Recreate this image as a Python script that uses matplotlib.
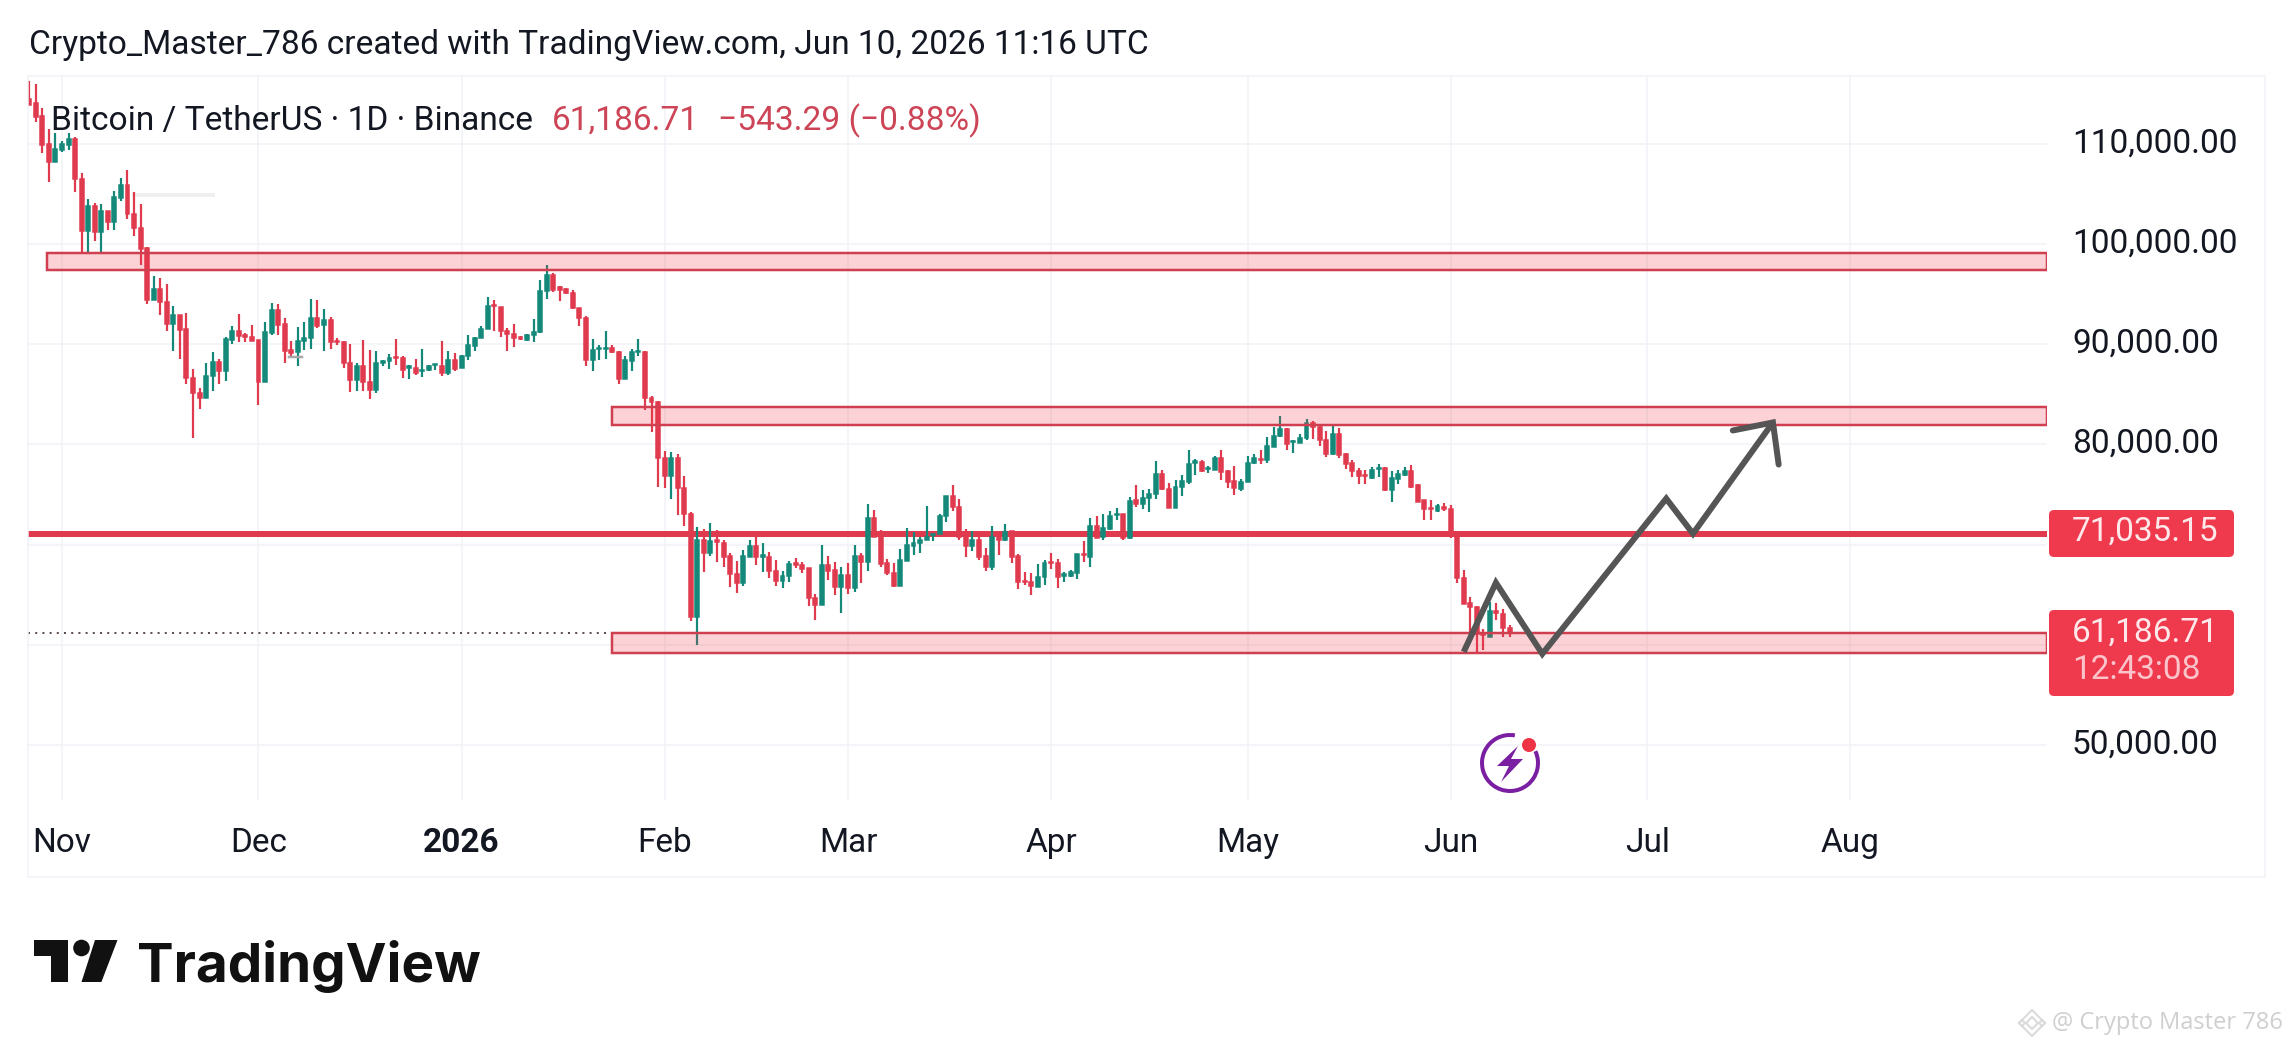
import matplotlib
matplotlib.use("Agg")
import matplotlib.pyplot as plt
import matplotlib.dates as mdates
import numpy as np
import pandas as pd
from matplotlib.patches import Rectangle, Polygon, Circle, FancyBboxPatch, Arc
from matplotlib.transforms import ScaledTranslation

W, H, DPI = 2294, 1047, 100
plt.rcParams['font.family'] = ['Roboto', 'DejaVu Sans']

opens = [114.5,114.1,112.8,110.0,108.2,109.4,109.9,110.5,106.5,101.3,103.8,101.2,103.3,102.2,104.6,105.9,103.0,101.6,99.6,94.4,95.5,94.2,92.0,92.9,91.5,86.6,85.1,84.6,86.8,88.2,87.3,90.4,91.3,90.9,90.7,90.4,86.2,91.1,93.4,92.0,89.4,89.2,90.3,90.6,92.6,91.9,92.4,90.3,90.2,88.1,86.4,
 87.8,86.2,85.4,88.1,88.3,88.7,88.6,87.6,87.6,87.3,87.4,87.9,87.8,87.1,88.4,87.6,88.8,89.8,90.6,91.5,93.9,93.7,91.3,91.0,90.7,90.4,90.9,91.2,95.3,96.9,95.7,95.5,95.1,93.6,92.6,88.4,89.5,89.5,89.6,89.2,86.5,88.3,89.2,89.2,84.6,84.2,78.7,76.9,78.7,75.7,73.1,62.8,
 70.5,69.2,70.5,70.2,68.9,67.1,66.2,68.8,69.9,68.8,68.8,67.4,66.4,66.9,68.2,68.0,67.7,64.7,64.0,68.0,67.5,65.8,67.0,65.7,68.9,68.3,72.7,71.0,68.2,67.2,65.9,68.4,69.9,70.2,70.5,71.0,71.1,72.9,74.9,73.8,71.2,69.9,70.5,68.9,67.8,71.2,
 70.5,71.4,68.9,66.4,66.3,65.8,66.8,68.3,68.2,66.9,66.9,67.2,69.1,68.8,71.9,70.8,71.6,73.0,73.1,70.7,74.5,74.1,74.7,75.1,77.1,75.6,73.7,75.8,76.3,78.2,78.3,77.6,77.5,78.7,77.4,76.4,75.6,76.3,78.2,78.6,78.5,79.8,80.8,81.5,80.2,80.1,80.6,82.1,81.7,80.4,79.1,81.0,
 79.1,78.2,77.4,77.0,76.7,77.6,77.7,75.5,76.6,77.0,77.4,76.0,74.5,73.7,73.4,73.8,73.6,71.2,66.7,64.2,63.8,61.2,60.8,63.4,63.1,61.73]
highs = [116.3,116.0,113.6,111.5,111.1,110.3,111.1,110.7,107.1,104.5,104.1,104.0,103.3,105.3,106.6,107.4,105.2,104.0,99.7,96.8,96.6,96.0,93.8,92.9,93.1,87.5,85.6,88.1,89.2,88.5,90.7,91.8,93.0,91.1,91.9,90.4,92.2,94.1,94.0,92.6,90.3,91.7,92.2,94.5,94.4,93.5,92.7,90.6,90.3,90.0,88.1,
 90.4,89.4,89.3,88.4,89.0,90.5,88.8,87.9,88.5,89.5,87.9,88.0,90.3,89.3,89.1,88.9,90.9,90.7,91.8,94.7,94.4,93.7,91.6,92.0,90.8,91.0,92.5,96.4,97.9,97.1,95.8,95.6,95.4,93.6,92.8,90.5,89.9,91.3,89.9,89.3,88.8,89.5,90.5,89.3,84.8,84.3,79.4,79.3,79.1,76.9,73.3,71.8,
 71.6,72.2,71.5,70.5,69.2,68.4,69.5,70.5,70.8,70.2,69.3,68.5,67.4,68.4,68.7,68.3,67.7,65.1,70.0,68.9,68.3,67.8,68.2,70.0,69.2,74.1,73.5,71.5,68.6,68.2,69.6,71.7,71.3,70.8,73.9,71.1,73.1,74.9,76.0,74.6,71.6,71.4,70.8,69.7,71.9,71.3,
 72.1,71.4,69.1,67.3,67.2,68.1,68.5,69.2,68.6,67.3,67.5,69.1,70.4,72.7,72.9,73.1,73.4,73.7,73.1,74.8,76.0,75.5,75.6,78.4,77.5,76.2,76.5,77.0,79.5,78.6,78.5,77.9,78.9,79.5,77.5,77.9,76.6,78.9,79.1,79.5,80.7,81.7,82.8,81.6,80.4,81.0,82.5,82.3,81.8,81.3,82.0,81.6,
 79.2,78.5,77.7,77.5,77.8,78.1,77.8,77.4,77.5,77.8,78.0,76.1,74.5,74.5,74.1,74.2,74.0,71.4,67.5,64.8,63.9,61.6,64.3,64.2,63.6,62.0]
lows = [113.9,112.2,109.1,106.2,108.2,109.2,109.4,105.2,99.0,99.0,100.3,99.2,101.4,101.4,104.3,102.5,100.8,97.9,94.0,94.4,92.9,91.3,89.3,88.5,86.0,80.6,83.5,84.6,85.3,86.0,86.3,90.0,90.2,90.2,90.3,83.9,86.2,90.9,90.9,88.1,88.6,87.8,89.4,89.5,91.6,89.3,89.5,89.9,87.6,85.2,85.3,
 85.3,84.5,85.1,87.8,87.5,87.9,86.6,86.5,86.9,86.7,87.3,87.4,86.8,86.9,87.3,87.6,88.4,89.3,90.6,91.5,91.3,90.7,89.3,89.7,90.4,90.3,90.2,91.1,94.5,95.2,94.3,95.0,93.5,91.8,87.8,87.3,88.4,88.5,89.1,86.0,86.5,87.3,88.8,83.4,81.2,75.8,75.7,74.6,73.0,71.9,62.4,60.0,
 67.3,68.9,68.3,67.8,65.8,65.2,65.9,68.8,68.0,67.3,66.7,65.9,65.7,66.3,67.7,67.2,63.9,62.5,64.0,66.5,65.0,63.2,65.1,65.3,66.2,67.4,70.8,67.8,67.0,65.8,65.9,68.4,69.0,69.2,70.5,70.4,71.1,72.3,73.4,70.5,68.8,69.4,68.5,67.4,67.5,69.0,
 70.4,68.2,65.6,66.0,65.0,65.8,66.0,67.6,65.7,66.3,66.8,66.6,68.3,67.8,70.7,70.5,71.5,72.5,70.5,70.6,73.8,73.6,73.3,74.6,75.5,73.7,73.7,74.9,76.1,77.0,77.3,77.2,77.5,76.5,75.7,75.0,75.4,76.3,78.1,78.1,78.2,79.8,80.7,79.5,79.2,80.1,80.4,80.5,79.9,78.8,79.0,78.7,
 77.6,76.8,76.1,76.1,76.6,76.8,75.4,74.3,76.1,76.9,75.7,74.3,72.5,72.5,73.3,73.4,70.7,66.2,64.1,61.3,59.3,59.5,60.8,62.5,60.8,60.8]
closes = [113.9,112.7,109.9,108.2,109.5,110.0,110.5,106.5,101.3,103.8,101.2,103.3,102.2,104.7,105.9,103.0,101.6,99.5,94.4,95.5,94.2,92.0,92.9,91.4,86.6,85.1,84.6,86.8,88.2,87.3,90.5,91.3,90.8,90.7,90.3,86.2,91.2,93.4,91.9,89.3,89.1,90.3,90.6,92.6,91.8,92.4,90.2,90.2,88.1,86.4,87.8,
 86.2,85.4,88.1,88.3,88.6,88.6,87.4,87.8,87.1,87.4,87.8,88.0,87.1,88.4,87.5,88.8,89.9,90.6,91.5,93.8,93.8,91.3,91.0,90.6,90.5,90.9,91.2,95.3,96.9,95.4,95.4,95.1,93.6,92.6,88.4,89.4,89.6,89.6,89.2,86.5,88.4,89.2,89.3,84.6,84.2,78.7,76.9,78.7,75.7,73.1,62.8,70.5,
 69.2,70.4,70.3,68.8,67.1,66.2,68.9,69.9,68.8,69.0,67.4,66.4,66.9,68.1,68.0,67.6,64.7,64.0,68.0,67.4,65.8,67.0,65.7,68.9,68.3,72.7,70.8,68.1,67.2,65.9,68.5,70.0,70.2,70.5,70.8,71.1,72.9,74.9,73.8,70.8,69.9,70.5,68.8,67.8,70.8,70.5,
 71.3,68.8,66.3,66.3,65.9,66.8,68.2,68.2,66.8,67.1,67.3,69.1,69.0,71.9,70.7,71.7,72.9,73.1,70.7,74.4,74.1,74.7,75.1,77.1,75.6,73.7,75.8,76.4,78.1,78.4,77.4,77.7,78.7,77.3,76.3,75.7,76.3,78.2,78.7,78.5,79.9,80.8,81.5,80.0,80.3,80.6,82.1,81.7,80.4,79.1,81.0,79.0,
 78.1,77.4,76.9,76.9,77.5,77.7,75.5,76.7,77.1,77.4,75.8,74.3,73.6,73.6,73.9,73.6,71.2,66.7,64.1,63.8,61.1,61.0,63.4,63.2,61.7,61.19]
first_day = '2025-10-27'

price_ticks = [50, 60, 70, 80, 90, 100, 110]
price_labels = ['50,000.00', '', '', '80,000.00', '90,000.00', '100,000.00', '110,000.00']
month_ticks = ['2025-11-01','2025-12-01','2026-01-01','2026-02-01','2026-03-01','2026-04-01','2026-05-01','2026-06-01','2026-07-01','2026-08-01']
month_labels = ['Nov','Dec','2026','Feb','Mar','Apr','May','Jun','Jul','Aug']

# zones: (start date, top, bottom), all run to the right edge
zone_starts = ['2025-10-29 16:00', '2026-01-24', '2026-01-24']
zone_tops = [99.15, 83.7, 61.2]
zone_bottoms = [97.42, 81.99, 59.23]
level_price = 71.03515
last_price = 61.18671
path_dates = ['2026-06-03','2026-06-07 22:00','2026-06-15','2026-07-03 22:00','2026-07-08','2026-07-20 05:00']
path_prices = [59.3, 66.2, 59.1, 74.6, 71.1, 82.2]
head_dates = ['2026-07-14 02:00','2026-07-20 05:00','2026-07-21 02:00']
head_prices = [81.4, 82.2, 78.0]

RED = '#E03A4E'
GREEN = '#14897A'
ZONE = '#CF3F50'
GRID = '#F0F2F6'
DARK = '#131722'

def num(s):
    return mdates.date2num(pd.to_datetime(s, format='mixed'))

fig = plt.figure(figsize=(W/DPI, H/DPI), dpi=DPI, facecolor='white')
L, R, T, B = 28, 2047, 76, 800
ax = fig.add_axes([L/W, 1-B/H, (R-L)/W, (B-T)/H])
px = 72/DPI  # points per pixel

dates = pd.date_range(first_day, periods=len(opens))
x = mdates.date2num(dates)
o, h, l, c = map(np.array, (opens, highs, lows, closes))
up = c >= o
cols = np.where(up, GREEN, RED)

ax.vlines(x, l, h, colors=cols, lw=2.2*px, zorder=3)
ax.bar(x, np.abs(c-o), bottom=np.minimum(o, c), width=0.6, color=cols, edgecolor=cols,
       linewidth=1.5*px, zorder=3.1)

ax.axhline(level_price, color=RED, lw=6*px, zorder=2, solid_capstyle='butt')
x0 = num(first_day)
xl = (x0 + 5 - 5.19, x0 + 5 + 303.05)

for s, t, b in zip(zone_starts, zone_tops, zone_bottoms):
    xs = num(s)
    ax.add_patch(Rectangle((xs, b), xl[1]-xs, t-b, facecolor='#F23645', alpha=0.22, lw=0, zorder=4))
    ax.add_patch(Rectangle((xs, b), xl[1]-xs, t-b, facecolor='none', edgecolor=ZONE, lw=2.5*px, zorder=4.1))

ax.plot([xl[0], num('2026-01-23')], [last_price, last_price], color='#5E4E50',
        lw=2*px, ls=(0, (1, 2.6)), zorder=1.5)
# faint remnants of drawings
ax.plot(num(['2025-11-12','2025-11-24']), [104.9, 104.9], color='#EFEFEF', lw=4*px, zorder=1.2)
ax.plot(num(['2025-12-05 14:00','2025-12-07 14:00']), [88.7, 88.7], color='#A8A8A8', lw=2.5*px, zorder=3.2)

ax.plot(num(path_dates), path_prices, color='#555555', lw=6*px, zorder=6,
        solid_joinstyle='miter', solid_capstyle='butt')
ax.plot(num(head_dates), head_prices, color='#555555', lw=6*px, zorder=6,
        solid_joinstyle='miter', solid_capstyle='round')

ax.set_xlim(*xl)
ax.set_ylim(50-55*0.09983, 110+68*0.09983)
ax.set_yticks(price_ticks)
ax.set_yticklabels(price_labels, fontsize=24, color=DARK)
ax.set_xticks(num(month_ticks))
ax.set_xticklabels(month_labels, fontsize=24, color=DARK)
ax.tick_params(axis='y', left=False, right=False, labelleft=False, labelright=True, pad=25*px, length=0)
ax.tick_params(axis='x', bottom=False, pad=27*px, length=0)
ax.grid(True, color=GRID, lw=1.5*px, zorder=0)
ax.set_axisbelow(True)
for sp in ax.spines.values():
    sp.set_visible(False)
for lab in ax.get_xticklabels():
    if lab.get_text() == '2026':
        lab.set_fontweight('bold')
off = ScaledTranslation(0, 4/DPI, fig.dpi_scale_trans)
for lab in ax.get_yticklabels():
    lab.set_transform(lab.get_transform() + off)

# overlay in pixel space for decoration, texts and badges
ov = fig.add_axes([0, 0, 1, 1], zorder=10)
ov.set_xlim(0, W); ov.set_ylim(H, 0); ov.axis('off'); ov.patch.set_alpha(0)
ov.add_patch(Rectangle((28, 76), 2237, 801, fill=False, edgecolor=GRID, lw=1.5*px))

ov.text(29, 45, 'Crypto_Master_786 created with TradingView.com, Jun 10, 2026 11:16 UTC', fontsize=24.15, color=DARK, va='center')
ov.text(51, 121, 'Bitcoin / TetherUS · 1D · Binance', fontsize=24.15, color=DARK, va='center')
ov.text(552, 121, '61,186.71', fontsize=24.15, color='#CC4455', va='center')
ov.text(718, 121, '−543.29 (−0.88%)', fontsize=24.15, color='#CC4455', va='center')

BADGE = '#EF3A4E'
ov.add_patch(FancyBboxPatch((2051, 512), 181, 43, boxstyle='round,pad=2,rounding_size=5', fc=BADGE, ec='none'))
ov.add_patch(FancyBboxPatch((2051, 612), 181, 82, boxstyle='round,pad=2,rounding_size=5', fc=BADGE, ec='none'))
ov.text(2072, 532, '71,035.15', fontsize=24, color='#FFE8EA', va='center')
ov.text(2072, 633, '61,186.71', fontsize=24, color='#FFE8EA', va='center')
ov.text(2072, 670, '12:43:08', fontsize=24, color='#FBC4CA', va='center')

# TradingView logo
LOGO = '#111111'
ov.add_patch(Polygon([(34, 940), (67.5, 940), (67.5, 982), (50.5, 982), (50.5, 956), (34, 956)], closed=True, fc=LOGO, ec='none'))
ov.add_patch(Circle((81.5, 948), 8.3, fc=LOGO, ec='none'))
ov.add_patch(Polygon([(95, 940), (117.5, 940), (101.4, 982), (81.5, 982)], closed=True, fc=LOGO, ec='none'))
ov.text(137, 982, 'TradingView', fontsize=39.5, family=['Inter', 'DejaVu Sans'], fontweight='bold', color=LOGO, va='baseline')

# energy badge
PUR = '#7B1FA2'
ov.add_patch(Arc((1510, 763), 56, 56, theta1=-25, theta2=280, angle=0, color=PUR, lw=4*px))
ov.add_patch(Circle((1529, 745), 7, fc='#EE3344', ec='none'))
ov.add_patch(Polygon([(1518, 746), (1497, 766), (1509, 766), (1501, 782), (1523, 759), (1511, 759)], closed=True, fc=PUR, ec='none'))

# watermark
ov.text(2052, 1023, '@ Crypto Master 786', fontsize=17, family=['Open Sans', 'DejaVu Sans'], color='#CFCFCF', va='center')
for cx, cy, s in [(2032, 1023, 13), (2032, 1023, 6), (2022, 1023, 3), (2042, 1023, 3)]:
    ov.add_patch(Polygon([(cx-s, cy), (cx, cy-s), (cx+s, cy), (cx, cy+s)], closed=True, fc='none', ec='#DADADA', lw=2*px))

fig.savefig('out.png', dpi=DPI, facecolor='white')
assert len(opens) == len(highs) == len(lows) == len(closes), (len(opens), len(highs), len(lows), len(closes))
print(len(opens))
